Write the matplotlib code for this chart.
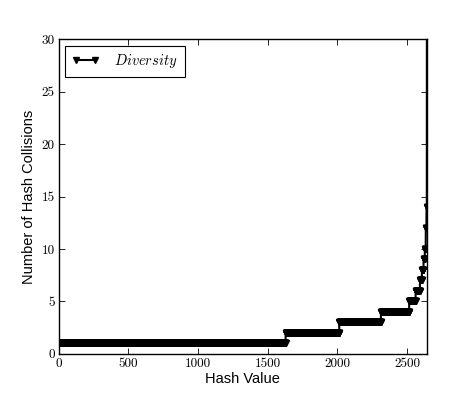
import matplotlib
matplotlib.use("Agg")
import matplotlib.pyplot as plt
import numpy as np

# collisions per hash value, sorted: level -> how many hash values have it
levels = [1, 2, 3, 4, 5, 6, 7, 8, 9, 10, 12, 14, 45]
counts = [1629, 385, 299, 203, 46, 31, 14, 12, 9, 7, 5, 3, 1]

collisions = np.repeat(levels, counts)
hash_idx = np.arange(len(collisions))

plt.rcParams['mathtext.fontset'] = 'cm'

fig = plt.figure(figsize=(4.74, 3.95), dpi=100)
ax = fig.add_axes([0.124, 0.104, 0.777, 0.797])

ax.plot(hash_idx, collisions, color='black', linewidth=1.5, marker='v',
        markersize=4, label=r'$Diversity$')

ax.set_xlim(0, len(collisions))
ax.set_ylim(0, 30)
ax.set_xticks([0, 500, 1000, 1500, 2000, 2500])
ax.set_yticks([0, 5, 10, 15, 20, 25, 30])
ax.tick_params(direction='in', top=True, right=True, length=4, width=0.6,
               labelsize=9.5, pad=3)
for lab in ax.get_xticklabels() + ax.get_yticklabels():
    lab.set_family('cmr10')
for s in ax.spines.values():
    s.set_linewidth(1.0)

ax.set_xlabel('Hash Value', fontsize=10.5, family='Liberation Sans', labelpad=1)
ax.set_ylabel('Number of Hash Collisions', fontsize=10.5, family='Liberation Sans',
              labelpad=4)

leg = ax.legend(loc='upper left', numpoints=2, fancybox=False, fontsize=10.5,
                handlelength=1.9, handletextpad=1.0, borderpad=0.45,
                borderaxespad=0.45, framealpha=1)
leg.get_frame().set_edgecolor('black')
leg.get_frame().set_linewidth(0.8)

fig.savefig('out.png', dpi=100)
